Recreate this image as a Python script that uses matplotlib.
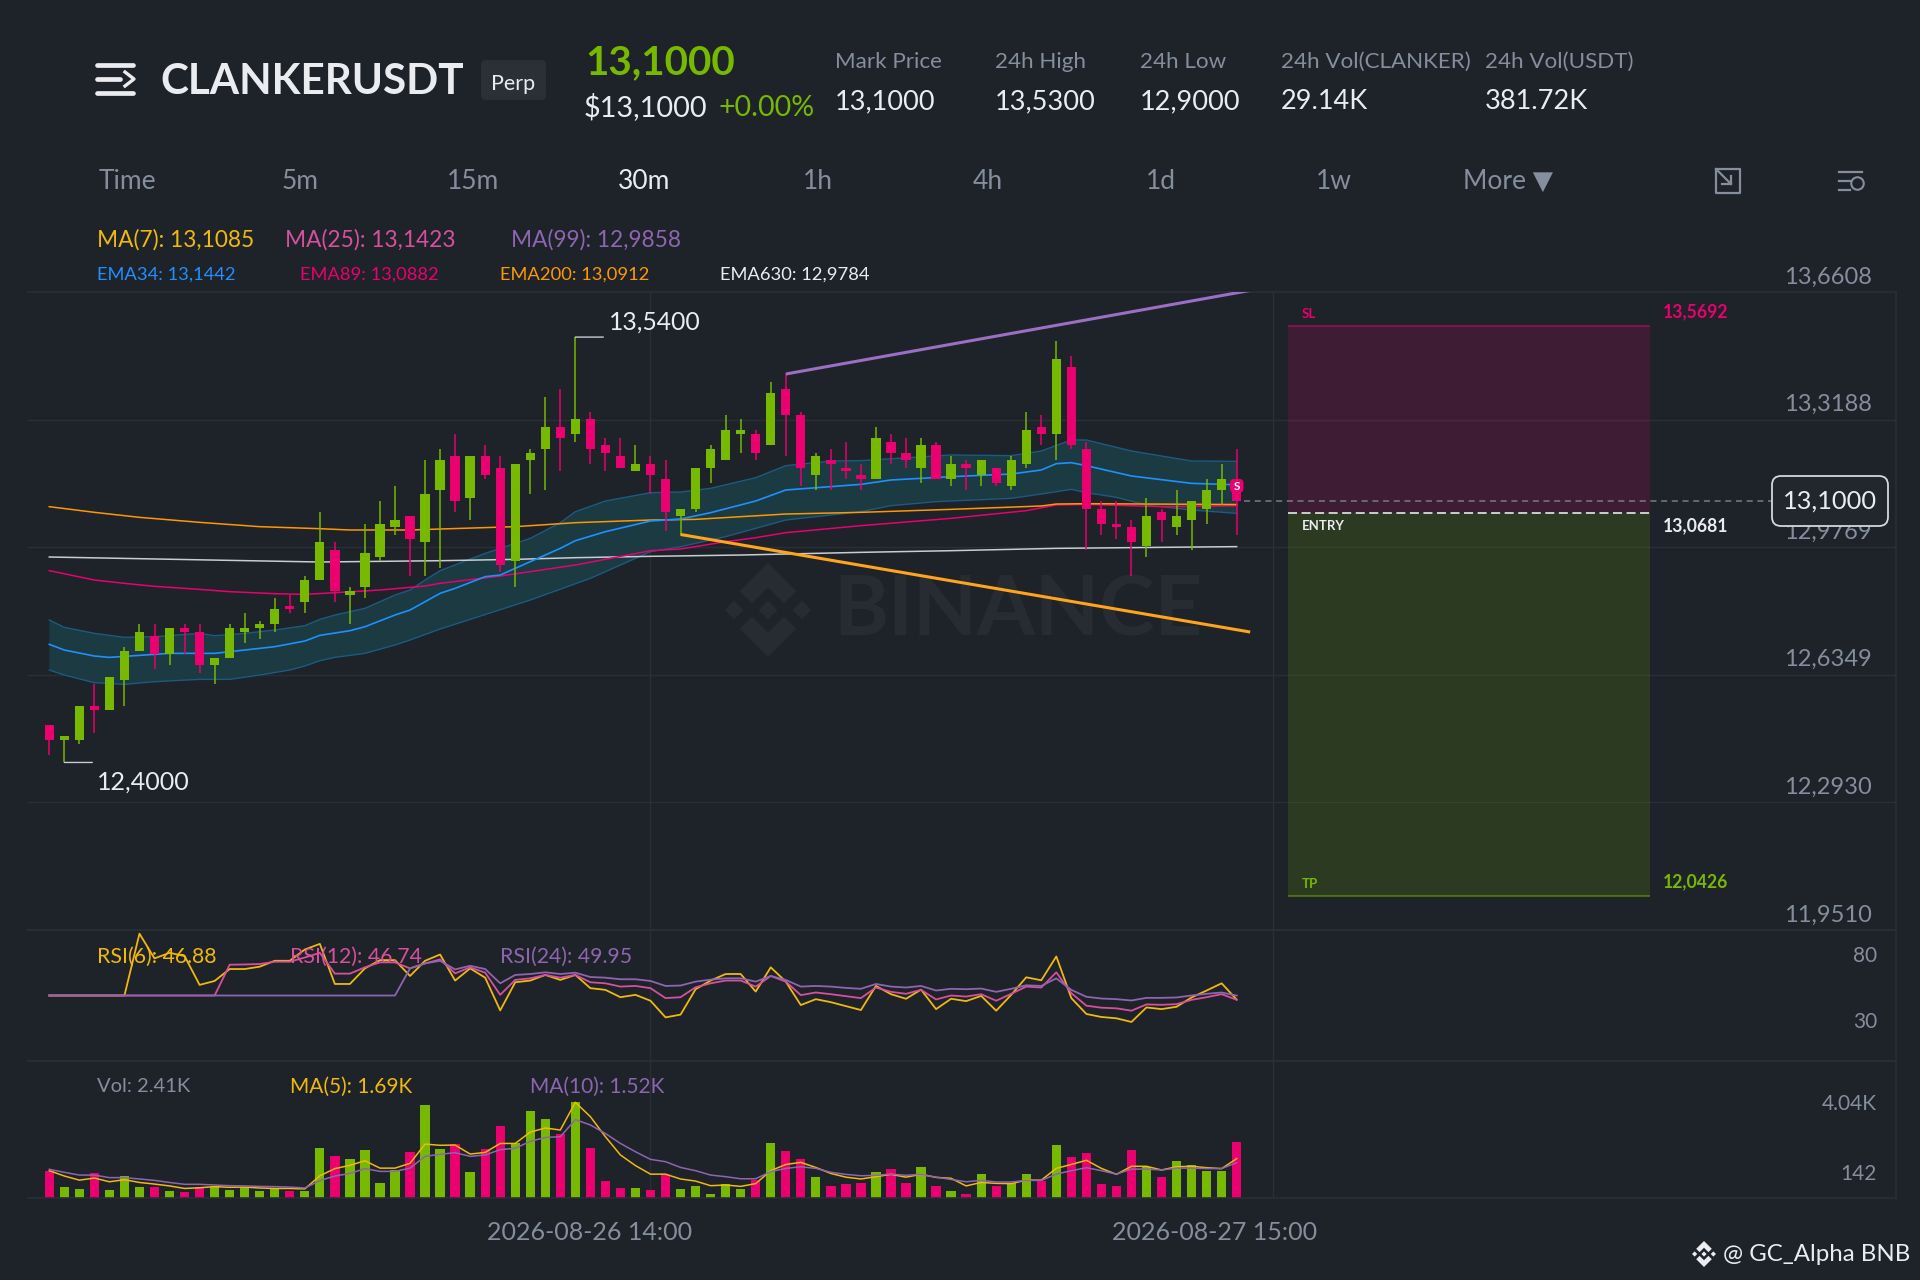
import matplotlib
matplotlib.use("Agg")
import matplotlib.pyplot as plt
from matplotlib.patches import FancyBboxPatch, Polygon

plt.rcParams['font.family'] = ['Lato', 'DejaVu Sans']

BG = "#1e2229"
GRID = "#2a2e36"
GREEN = "#76b900"
RED = "#ea006f"
GRAY = "#848e9c"
WHITE = "#eaecef"
YELLOW = "#f0b90b"
PINK = "#d6509e"
PURPLE = "#8e65b0"

# candles, 30m
opens = [12.50, 12.46, 12.46, 12.55, 12.54, 12.62, 12.70, 12.74, 12.69, 12.76,
         12.75, 12.66, 12.68, 12.75, 12.76, 12.77, 12.82, 12.83, 12.89, 12.97,
         12.85, 12.87, 12.95, 13.03, 13.06, 12.99, 13.13, 13.22, 13.11, 13.22,
         13.19, 12.94, 13.21, 13.24, 13.30, 13.28, 13.32, 13.25, 13.22, 13.18,
         13.20, 13.16, 13.06, 13.08, 13.19, 13.21, 13.28, 13.28, 13.25, 13.40,
         13.33, 13.17, 13.21, 13.19, 13.17, 13.16, 13.26, 13.23, 13.19, 13.25,
         13.16, 13.20, 13.17, 13.19, 13.14, 13.20, 13.30, 13.28, 13.46, 13.24,
         13.08, 13.04, 13.03, 12.98, 13.07, 13.03, 13.05, 13.08, 13.13, 13.13]
highs = [12.50, 12.47, 12.55, 12.61, 12.63, 12.71, 12.77, 12.77, 12.76, 12.77,
         12.77, 12.68, 12.77, 12.80, 12.78, 12.84, 12.85, 12.90, 13.07, 12.99,
         12.87, 13.04, 13.10, 13.14, 13.06, 13.21, 13.24, 13.28, 13.22, 13.25,
         13.22, 13.20, 13.24, 13.38, 13.40, 13.54, 13.34, 13.27, 13.27, 13.25,
         13.22, 13.21, 13.08, 13.19, 13.25, 13.33, 13.32, 13.29, 13.42, 13.44,
         13.34, 13.23, 13.24, 13.26, 13.20, 13.30, 13.28, 13.27, 13.27, 13.26,
         13.22, 13.21, 13.21, 13.19, 13.22, 13.34, 13.33, 13.53, 13.49, 13.26,
         13.10, 13.10, 13.05, 13.11, 13.08, 13.13, 13.10, 13.16, 13.20, 13.24]
lows = [12.42, 12.40, 12.45, 12.48, 12.54, 12.55, 12.70, 12.65, 12.66, 12.69,
        12.64, 12.61, 12.68, 12.72, 12.73, 12.75, 12.80, 12.80, 12.89, 12.83,
        12.77, 12.84, 12.94, 13.01, 12.90, 12.90, 12.92, 13.07, 13.05, 13.16,
        12.91, 12.87, 13.12, 13.13, 13.18, 13.26, 13.20, 13.18, 13.19, 13.18,
        13.12, 13.02, 13.01, 13.07, 13.15, 13.21, 13.23, 13.21, 13.25, 13.22,
        13.14, 13.13, 13.13, 13.16, 13.13, 13.16, 13.20, 13.19, 13.15, 13.16,
        13.14, 13.13, 13.14, 13.14, 13.13, 13.19, 13.25, 13.21, 13.24, 12.97,
        13.01, 13.00, 12.90, 12.95, 12.99, 13.01, 12.97, 13.04, 13.09, 13.01]
closes = [12.46, 12.47, 12.55, 12.54, 12.63, 12.70, 12.75, 12.69, 12.76, 12.75,
          12.66, 12.68, 12.76, 12.76, 12.77, 12.81, 12.81, 12.89, 12.99, 12.86,
          12.86, 12.96, 13.04, 13.05, 13.00, 13.12, 13.21, 13.10, 13.22, 13.17,
          12.93, 13.20, 13.23, 13.30, 13.27, 13.32, 13.24, 13.23, 13.19, 13.20,
          13.17, 13.07, 13.08, 13.19, 13.24, 13.29, 13.29, 13.23, 13.39, 13.33,
          13.19, 13.22, 13.20, 13.18, 13.16, 13.27, 13.23, 13.21, 13.25, 13.16,
          13.20, 13.19, 13.21, 13.15, 13.21, 13.29, 13.28, 13.48, 13.25, 13.08,
          13.04, 13.03, 12.99, 13.06, 13.05, 13.06, 13.10, 13.13, 13.16, 13.10]

# moving averages on the price pane, read at their visible bends
ema200_x = [0, 3, 6, 10, 14, 18, 20, 24, 26, 31, 35, 40, 43, 49, 54, 60, 66, 67, 69, 79]
ema200 = [13.0855, 13.0703, 13.0569, 13.0435, 13.0319, 13.0265, 13.0230, 13.0230, 13.0256, 13.0319,
          13.0426, 13.0497, 13.0515, 13.0658, 13.0703, 13.0783, 13.0873, 13.0926, 13.0935, 13.0912]
ema630_x = [0, 6, 12, 18, 26, 31, 35, 40, 46, 54, 60, 67, 79]
ema630 = [12.9506, 12.9461, 12.9416, 12.9372, 12.9407, 12.9443, 12.9488, 12.9524, 12.9559, 12.9631,
          12.9675, 12.9738, 12.9784]
ema89_x = [0, 3, 5, 7, 10, 12, 15, 17, 19, 22, 25, 26, 30, 35, 40, 42, 45, 47, 49, 54, 60, 65, 67, 69, 74, 79]
ema89 = [12.9140, 12.8889, 12.8800, 12.8720, 12.8639, 12.8577, 12.8523, 12.8505, 12.8550, 12.8621,
         12.8729, 12.8800, 12.8996, 12.9291, 12.9675, 12.9720, 12.9917, 13.0024, 13.0158, 13.0346,
         13.0542, 13.0748, 13.0900, 13.0917, 13.0855, 13.0882]
ema34_x = [0, 1, 3, 4, 6, 8, 11, 13, 15, 17, 18, 20, 21, 23, 24, 25, 26, 27, 29, 30, 32, 34, 35, 37,
           40, 42, 44, 47, 49, 54, 56, 60, 64, 66, 67, 68, 69, 72, 76, 79]
ema34 = [12.7165, 12.7013, 12.6852, 12.6816, 12.6870, 12.6924, 12.6924, 12.7013, 12.7103, 12.7254,
         12.7406, 12.7531, 12.7638, 12.7951, 12.8085, 12.8308, 12.8532, 12.8666, 12.8979, 12.9023,
         12.9381, 12.9738, 12.9943, 13.0185, 13.0471, 13.0524, 13.0694, 13.1007, 13.1302, 13.1453,
         13.1570, 13.1659, 13.1730, 13.1838, 13.2007, 13.2034, 13.1954, 13.1677, 13.1480, 13.1442]
band_up_x = [0, 1, 3, 5, 7, 10, 11, 13, 15, 17, 18, 19, 21, 23, 24, 25, 26, 29, 32, 34, 35, 37, 40, 42,
             44, 47, 49, 52, 54, 60, 64, 66, 68, 69, 72, 76, 79]
band_up = [12.7817, 12.7621, 12.7460, 12.7353, 12.7370, 12.7460, 12.7397, 12.7460, 12.7549, 12.7665,
           12.7835, 12.7951, 12.8130, 12.8487, 12.8621, 12.8889, 12.9140, 12.9604, 13.0006, 13.0426,
           13.0721, 13.1007, 13.1230, 13.1248, 13.1346, 13.1632, 13.1954, 13.2079, 13.2088, 13.2240,
           13.2222, 13.2347, 13.2642, 13.2642, 13.2347, 13.2079, 13.2070]
band_lo_x = [0, 1, 3, 5, 7, 10, 12, 14, 16, 17, 18, 19, 21, 23, 24, 26, 32, 36, 40, 42, 45, 47, 49, 54,
             56, 59, 64, 66, 68, 69, 71, 73, 76, 79]
band_lo = [12.6477, 12.6343, 12.6138, 12.6093, 12.6164, 12.6227, 12.6227, 12.6343, 12.6477, 12.6584,
           12.6727, 12.6816, 12.6924, 12.7147, 12.7281, 12.7576, 12.8353, 12.8934, 12.9649, 12.9783,
           13.0051, 13.0274, 13.0497, 13.0721, 13.0882, 13.0989, 13.1078, 13.1194, 13.1319, 13.1230,
           13.1105, 13.0900, 13.0765, 13.0676]

# hand drawn trend lines and the position box
upper_trend_x = [49, 79.9]
upper_trend = [13.441, 13.665]
lower_trend_x = [42, 79.9]
lower_trend = [13.011, 12.7495]
sl_price = 13.5692
entry_price = 13.0681
tp_price = 12.0426
last_price = 13.1000
high_price = 13.54
low_price = 12.40

price_ticks = [13.6608, 13.3188, 12.9769, 12.6349, 12.2930, 11.9510]

rsi6 = [50, 50, 50, 50, 50, 50, 97.2, 78.3, 82.6, 80.1,
        58.1, 61.1, 70.2, 70.2, 72.0, 76.5, 76.5, 85.1, 89.4, 58.8,
        58.8, 70.7, 77.0, 77.0, 64.9, 76.5, 81.3, 61.4, 70.7, 63.6,
        38.6, 60.1, 61.4, 65.7, 61.9, 65.7, 55.6, 54.3, 48.7, 50.5,
        46.0, 33.3, 35.4, 54.8, 61.4, 66.4, 66.4, 53.0, 71.5, 60.6,
        42.7, 47.2, 44.9, 41.9, 38.9, 57.3, 51.0, 47.5, 54.5, 39.6,
        47.5, 45.7, 49.7, 38.4, 50.5, 63.9, 61.6, 79.8, 48.0, 35.9,
        33.6, 32.6, 29.8, 40.9, 39.6, 41.4, 48.5, 53.8, 59.3, 46.88]
rsi12 = [50, 50, 50, 50, 50, 50, 50, 50, 50, 50,
         50, 50, 73.5, 73.7, 74.0, 75.8, 75.8, 79.0, 82.6, 66.7,
         66.7, 71.5, 75.3, 75.3, 70.7, 74.5, 77.5, 66.9, 71.5, 67.4,
         50.5, 61.9, 63.1, 65.7, 63.6, 65.7, 60.1, 59.3, 56.8, 57.3,
         55.6, 48.0, 48.7, 56.3, 59.3, 61.4, 61.4, 56.8, 64.9, 60.6,
         50.3, 52.3, 51.0, 49.5, 48.0, 56.1, 52.8, 51.3, 54.3, 47.0,
         50.0, 49.2, 51.0, 46.0, 51.3, 56.8, 56.1, 67.7, 51.8, 42.2,
         40.7, 40.2, 38.4, 43.2, 42.9, 43.4, 46.7, 48.7, 51.0, 46.74]
rsi24 = [50, 50, 50, 50, 50, 50, 50, 50, 50, 50,
         50, 50, 50, 50, 50, 50, 50, 50, 50, 50,
         50, 50, 50, 50, 70.7, 74.5, 76.5, 69.9, 72.7, 70.2,
         59.3, 65.7, 66.4, 67.7, 66.4, 67.4, 64.1, 63.6, 62.4, 62.4,
         61.1, 57.3, 57.6, 60.6, 62.1, 63.1, 63.1, 60.6, 64.9, 61.9,
         56.8, 57.3, 56.8, 55.8, 55.1, 58.8, 56.8, 56.1, 57.3, 53.8,
         55.1, 54.8, 55.3, 52.8, 55.1, 57.8, 57.3, 63.1, 54.3, 49.0,
         47.7, 47.2, 46.2, 48.2, 48.2, 48.5, 50.0, 51.3, 52.3, 49.95]

# volume in thousands
volume = [1.15, 0.48, 0.38, 1.05, 0.33, 0.94, 0.45, 0.45, 0.27, 0.23,
          0.48, 0.48, 0.33, 0.45, 0.30, 0.43, 0.29, 0.27, 2.15, 1.80,
          1.67, 2.05, 0.63, 1.20, 1.98, 4.01, 2.09, 2.32, 1.13, 2.09,
          3.10, 2.35, 3.75, 3.41, 2.76, 4.14, 2.14, 0.72, 0.40, 0.43,
          0.32, 0.98, 0.36, 0.52, 0.14, 0.61, 0.38, 0.76, 2.35, 2.02,
          1.66, 0.89, 0.51, 0.58, 0.63, 1.13, 1.26, 0.63, 1.31, 0.51,
          0.27, 0.17, 1.01, 0.52, 0.62, 1.01, 0.74, 2.28, 1.77, 1.93,
          0.59, 0.49, 2.06, 1.31, 0.91, 1.60, 1.41, 1.17, 1.17, 2.41]
vol_ma5 = [1.17, 0.94, 0.76, 0.85, 0.69, 0.78, 0.66, 0.59, 0.51, 0.40,
           0.43, 0.48, 0.45, 0.46, 0.42, 0.40, 0.40, 0.38, 0.95, 1.26,
           1.40, 1.60, 1.28, 1.28, 1.49, 2.32, 2.27, 2.28, 1.89, 1.96,
           2.35, 2.35, 2.84, 3.02, 2.93, 4.13, 3.51, 2.64, 1.85, 1.39,
           1.02, 1.02, 0.81, 0.72, 0.52, 0.55, 0.49, 0.61, 1.17, 1.44,
           1.53, 1.31, 1.05, 0.89, 0.81, 0.91, 1.01, 0.89, 1.01, 0.88,
           0.84, 0.51, 0.66, 0.62, 0.61, 0.76, 0.76, 1.27, 1.44, 1.62,
           1.27, 1.01, 1.36, 1.36, 1.20, 1.34, 1.36, 1.30, 1.26, 1.69]
vol_ma10 = [1.23, 1.10, 0.98, 0.98, 0.87, 0.87, 0.81, 0.75, 0.66, 0.58,
            0.58, 0.55, 0.52, 0.51, 0.49, 0.48, 0.46, 0.42, 0.74, 0.94,
            1.05, 1.26, 1.14, 1.14, 1.28, 1.79, 1.88, 1.95, 1.79, 1.85,
            2.08, 2.14, 2.44, 2.61, 2.64, 3.38, 3.15, 2.78, 2.35, 1.99,
            1.66, 1.56, 1.31, 1.17, 0.98, 0.91, 0.82, 0.82, 1.13, 1.27,
            1.34, 1.27, 1.10, 1.01, 0.95, 0.97, 1.02, 0.97, 1.01, 0.89,
            0.79, 0.69, 0.75, 0.68, 0.68, 0.75, 0.75, 1.02, 1.17, 1.30,
            1.17, 1.02, 1.24, 1.24, 1.20, 1.28, 1.28, 1.26, 1.26, 1.52]

idx = list(range(len(closes)))
colors = [GREEN if c >= o else RED for o, c in zip(opens, closes)]

fig = plt.figure(figsize=(19.2, 12.8), dpi=100, facecolor=BG)


def pane(left, top, right, bottom, z=1):
    ax = fig.add_axes([left / 1920, 1 - bottom / 1280, (right - left) / 1920, (bottom - top) / 1280], zorder=z)
    ax.patch.set_alpha(0)
    return ax


# full page layers in pixel coordinates, one under the chart and one over it
back = pane(0, 0, 1920, 1280, z=0)
back.set_xlim(0, 1920)
back.set_ylim(1280, 0)
back.axis("off")
front = pane(0, 0, 1920, 1280, z=5)
front.set_xlim(0, 1920)
front.set_ylim(1280, 0)
front.axis("off")


def logo(ax, cx, cy, r, color):
    shapes = [[(0, -.2), (.2, 0), (0, .2), (-.2, 0)],
              [(-.72, -.2), (-.52, 0), (-.72, .2), (-.92, 0)],
              [(.72, -.2), (.92, 0), (.72, .2), (.52, 0)],
              [(0, -1), (.6, -.4), (.34, -.14), (0, -.48), (-.34, -.14), (-.6, -.4)],
              [(0, 1), (.6, .4), (.34, .14), (0, .48), (-.34, .14), (-.6, .4)]]
    for s in shapes:
        ax.add_patch(Polygon([(cx + x * r, cy + y * r) for x, y in s], closed=True, fc=color, ec="none"))


def label(x, y, s, color=GRAY, size=16, ha="left", weight="normal", ax=front):
    ax.text(x, y + 1.5, s, color=color, fontsize=size, ha=ha, va="center", fontweight=weight)


# chart panes share the candle index on x
LEFT, RIGHT = 28, 1896
x0 = (LEFT - 49.3) / 15.03
x1 = (RIGHT - 49.3) / 15.03
main = pane(LEFT, 292, RIGHT, 930)
rsi = pane(LEFT, 930, RIGHT, 1061)
vol = pane(LEFT, 1061, RIGHT, 1197.7)

for ax in [main, rsi, vol]:
    ax.set_xlim(x0, x1)
    ax.set_xticks([])
    ax.set_yticks([])
    for name, sp in ax.spines.items():
        sp.set_color(GRID)
        sp.set_linewidth(1.2)
    ax.spines["left"].set_visible(False)
    ax.axvline(40, color=GRID, lw=1, zorder=0)
    ax.axvline(81.4, color=GRID, lw=1, zorder=0)

main.set_ylim(price_ticks[-1], price_ticks[0])
for p in price_ticks[1:-1]:
    main.axhline(p, color=GRID, lw=1, zorder=0)

# watermark
logo(back, 768, 610, 47, "#272b32")
back.text(1018, 612, "BINANCE", color="#272b32", fontsize=60, fontweight="bold", ha="center", va="center")

# band and averages
main.fill(band_up_x + band_lo_x[::-1], band_up + band_lo[::-1], color="#1b3a42", lw=0, zorder=1)
main.plot(band_up_x, band_up, color="#1c5a80", lw=1, zorder=2)
main.plot(band_lo_x, band_lo, color="#1c5a80", lw=1, zorder=2)
main.plot(ema630_x, ema630, color="#c9ccd1", lw=1.1, zorder=2)
main.plot(ema89_x, ema89, color=RED, lw=1.1, zorder=2)
main.plot(ema200_x, ema200, color="#ff9800", lw=1.1, zorder=2)
main.plot(ema34_x, ema34, color="#1e90ff", lw=1.2, zorder=2)

# candles
main.vlines(idx, lows, highs, colors=colors, lw=1.1, zorder=3)
main.bar(idx, [abs(c - o) for o, c in zip(opens, closes)], bottom=[min(o, c) for o, c in zip(opens, closes)],
         width=0.62, color=colors, lw=0, zorder=3)

main.plot(upper_trend_x, upper_trend, color="#9a6fc4", lw=2.2, zorder=4, solid_capstyle="butt")
main.plot(lower_trend_x, lower_trend, color="#ffa41b", lw=2.2, zorder=4, solid_capstyle="butt")

# high and low markers
main.annotate("", xy=(35, high_price), xytext=(35 + 28 / 15.03, high_price),
              arrowprops=dict(arrowstyle="-", color="#c9ccd1", lw=1, shrinkA=0, shrinkB=0))
main.annotate("", xy=(1, low_price), xytext=(1 + 28 / 15.03, low_price),
              arrowprops=dict(arrowstyle="-", color="#c9ccd1", lw=1, shrinkA=0, shrinkB=0))
label(609, 321, "13,5400", WHITE, 17.8)
label(97, 781, "12,4000", WHITE, 18)

# position box
box_l = (1288 - 49.3) / 15.03
box_r = (1650 - 49.3) / 15.03
main.fill_between([box_l, box_r], entry_price, sl_price, color=RED, alpha=0.16, lw=0, zorder=1)
main.fill_between([box_l, box_r], tp_price, entry_price, color=GREEN, alpha=0.16, lw=0, zorder=1)
main.hlines(sl_price, box_l, box_r, color=RED, lw=1.2, alpha=0.55, zorder=2)
main.hlines(tp_price, box_l, box_r, color=GREEN, lw=1.2, alpha=0.55, zorder=2)
main.hlines(entry_price, box_l, box_r, color="#d8dadd", lw=1.3, linestyles=(0, (5, 2.5)), zorder=2)
main.hlines(last_price, 79.5, (1772 - 49.3) / 15.03, color="#767c86", lw=1.1, linestyles=(0, (4, 3)), zorder=2)
label(1302, 312, "SL", RED, 9.5, weight="bold")
label(1663, 310, "13,5692", RED, 12.7, weight="bold")
label(1302, 525, "ENTRY", WHITE, 9.5, weight="bold")
label(1663, 524, "13,0681", WHITE, 12.7, weight="bold")
label(1302, 882, "TP", GREEN, 9.5, weight="bold")
label(1663, 880, "12,0426", GREEN, 12.7, weight="bold")

# sell marker on the last candle
front.add_patch(FancyBboxPatch((1230, 479), 13.5, 13.5, boxstyle="round,pad=0,rounding_size=4", fc=RED, ec="none"))
front.text(1236.7, 486, "S", color="white", fontsize=8.5, fontweight="bold", ha="center", va="center")

# price axis labels
for p in price_ticks:
    main.annotate(f"{p:.4f}".replace(".", ","), xy=(1, p), xycoords=("axes fraction", "data"),
                  xytext=(-24, 15), textcoords="offset pixels", color=GRAY, fontsize=17, ha="right", va="center")

front.add_patch(FancyBboxPatch((1772, 476), 116, 50, boxstyle="round,pad=0,rounding_size=9",
                               fc="#22262d", ec="#d5d7da", lw=1.3))
label(1830, 499.5, "13,1000", WHITE, 18.3, ha="center")

# rsi
rsi.set_ylim(0, 100)
rsi.plot(idx, rsi6, color=YELLOW, lw=1.3)
rsi.plot(idx, rsi12, color=PINK, lw=1.3)
rsi.plot(idx, rsi24, color=PURPLE, lw=1.3)
label(97, 955, "RSI(6): 46.88", YELLOW, 15.3)
label(290, 955, "RSI(12): 46.74", PINK, 15.3)
label(500, 955, "RSI(24): 49.95", PURPLE, 15.3)
label(1877, 955, "80", GRAY, 15, ha="right")
label(1877, 1021, "30", GRAY, 15, ha="right")

# volume
vol.set_ylim(0, 5.92)
vol.bar(idx, volume, width=0.62, color=colors, lw=0)
vol.plot(idx, vol_ma5, color=YELLOW, lw=1.1)
vol.plot(idx, vol_ma10, color=PURPLE, lw=1.1)
label(97, 1085, "Vol: 2.41K", GRAY, 14.5)
label(290, 1085, "MA(5): 1.69K", YELLOW, 15)
label(530, 1085, "MA(10): 1.52K", PURPLE, 15)
label(1877, 1103, "4.04K", GRAY, 15, ha="right")
label(1877, 1173, "142", GRAY, 15, ha="right")

label(590, 1231, "2026-08-26 14:00", GRAY, 18, ha="center")
label(1215, 1231, "2026-08-27 15:00", GRAY, 18, ha="center")

logo(front, 1704, 1254, 13, WHITE)
label(1910, 1253, "@ GC_Alpha BNB", WHITE, 17.3, ha="right")

# header
for y, xe in [(65, 133), (79, 120), (93, 133)]:
    front.plot([97, xe], [y, y], color=WHITE, lw=3.4, solid_capstyle="round")
front.plot([125, 134, 125], [72, 79, 86], color=WHITE, lw=2.4)
label(160, 81, "CLANKERUSDT", WHITE, 30.4, weight="bold")
front.add_patch(FancyBboxPatch((481, 60), 65, 40, boxstyle="round,pad=0,rounding_size=5", fc="#2b2f36", ec="none"))
label(513.5, 82, "Perp", WHITE, 15.5, ha="center")
label(585, 61, "13,1000", GREEN, 29, weight="bold")
label(584, 106, "$13,1000", WHITE, 20.8)
label(719, 106, "+0.00%", GREEN, 20.5)

stat_names = ["Mark Price", "24h High", "24h Low", "24h Vol(CLANKER)", "24h Vol(USDT)"]
stat_values = ["13,1000", "13,5300", "12,9000", "29.14K", "381.72K"]
stat_left = [835, 995, 1140, 1281, 1485]
for s, v, xp in zip(stat_names, stat_values, stat_left):
    label(xp, 60, s, GRAY, 16.1)
    label(xp, 100, v, WHITE, 19.5)

tabs = ["Time", "5m", "15m", "30m", "1h", "4h", "1d", "1w", "More ▼"]
tab_left = [99, 282, 447, 618, 803, 973, 1146, 1316, 1463]
for t, xp in zip(tabs, tab_left):
    label(xp, 180, t, WHITE if t == "30m" else GRAY, 19)

# the two toolbar icons
front.plot([1716, 1740, 1740, 1716, 1716], [169, 169, 193, 193, 169], color=GRAY, lw=1.6)
front.plot([1718, 1731], [171, 184], color=GRAY, lw=1.6)
front.plot([1731, 1731, 1722], [176, 184, 184], color=GRAY, lw=1.6)
front.plot([1839, 1862], [172, 172], color=GRAY, lw=1.6)
front.plot([1839, 1850], [181, 181], color=GRAY, lw=1.6)
front.plot([1839, 1850], [190, 190], color=GRAY, lw=1.6)
front.plot([1857], [183], marker="o", ms=9, mfc="none", mec=GRAY, mew=1.5)

# indicator legends
label(97, 238, "MA(7): 13,1085", YELLOW, 16.3)
label(285, 238, "MA(25): 13,1423", PINK, 16.3)
label(511, 238, "MA(99): 12,9858", PURPLE, 16.3)
label(97, 273, "EMA34: 13,1442", "#1e90ff", 13.2)
label(300, 273, "EMA89: 13,0882", RED, 13.2)
label(500, 273, "EMA200: 13,0912", "#ff9800", 13.2)
label(720, 273, "EMA630: 12,9784", WHITE, 13.2)

fig.savefig("out.png", dpi=100, facecolor=BG)
